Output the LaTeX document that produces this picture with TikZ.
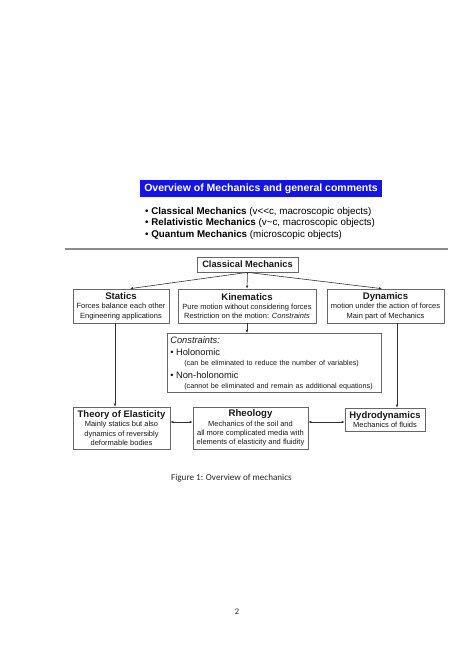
\documentclass[tikz,border=0pt]{standalone}
\usepackage{fontspec}
\setmainfont[Ligatures=NoCommon]{Liberation Sans}
\newfontfamily\capfont{Carlito}
\usetikzlibrary{calc,arrows.meta}
\newcommand{\fsz}[2]{\fontsize{#1}{#2}\selectfont}
\definecolor{hdrblue}{RGB}{20,20,230}
\begin{document}
\begin{tikzpicture}[x=1pt,y=-1pt,
  box/.style={draw=black!60, line width=0.7pt, align=center, inner sep=1pt, text=black!90, font=\fsz{7.5}{9.3}},
  conn/.style={draw=black!80, line width=0.6pt, -{Latex[length=3pt,width=2.6pt]}},
  dconn/.style={draw=black!80, line width=0.6pt, {Latex[length=3pt,width=2.6pt]}-{Latex[length=3pt,width=2.6pt]}}
]
\useasboundingbox[fill=white] (0,0) rectangle (474,670);

% header
\node[fill=hdrblue, minimum width=242pt, minimum height=17pt, inner sep=0pt, text=white, font=\bfseries\fsz{10.5}{12}] (hdr) at (261,188.5) {Overview of Mechanics and general comments};
\node[anchor=north west, align=left, inner sep=0pt, text=black, font=\fsz{9.8}{11.6}] (bul) at (145,207)
 {• \textbf{Classical Mechanics} (v{<}{<}c, macroscopic objects)\\
  • \textbf{Relativistic Mechanics} (v\textasciitilde c, macroscopic objects)\\
  • \textbf{Quantum Mechanics} (microscopic objects)};

% separator
\coordinate (ls) at (65,249);
\coordinate (le) at (448,249);
\draw[black!45, line width=1.5pt] (ls) -- (le);

% nodes
\node[box, minimum width=101pt, minimum height=15pt, font=\bfseries\fsz{9.3}{11}] (cm) at (247.5,264.5) {Classical Mechanics};
\node[box, minimum width=96pt, minimum height=34pt] (st) at (121,306)
 {{\bfseries\fsz{9.6}{11}Statics}\\Forces balance each other\\Engineering applications};
\node[box, minimum width=138pt, minimum height=34pt] (km) at (247,306)
 {{\bfseries\fsz{9.6}{11}Kinematics}\\Pure motion without considering forces\\Restriction on the motion: \textit{Constraints}};
\node[box, minimum width=117pt, minimum height=34pt] (dy) at (385.5,306)
 {{\bfseries\fsz{9.6}{11}Dynamics}\\motion under the action of forces\\Main part of Mechanics};
\node[box, anchor=north west, minimum height=59pt, text width=208pt, align=left, inner sep=3pt] (cs) at (167,333)
 {{\itshape\fsz{9.3}{11}Constraints:\par}
  {\fsz{9.3}{12.5}• Holonomic\par}
  {\fsz{7.2}{10}\hspace*{14pt}(can be eliminated to reduce the number of variables)\par}
  {\fsz{9.3}{12.5}• Non-holonomic\par}
  {\fsz{7.2}{10}\hspace*{14pt}(cannot be eliminated and remain as additional equations)\par}};
\node[box, minimum width=97pt, minimum height=42pt] (th) at (121.5,428)
 {{\bfseries\fsz{9.5}{11}Theory of Elasticity}\\Mainly statics but also\\dynamics of reversibly\\deformable bodies};
\node[box, minimum width=115pt, minimum height=42pt] (rh) at (250.5,428)
 {{\bfseries\fsz{9.6}{11}Rheology}\\Mechanics of the soil and\\all more complicated media with\\elements of elasticity and fluidity};
\node[box, minimum width=80pt, minimum height=23pt] (hy) at (385,419.5)
 {{\bfseries\fsz{9.5}{11}Hydrodynamics}\\Mechanics of fluids};

% connectors
\coordinate (xs) at (115,0);
\coordinate (xd) at (397,0);
\coordinate (ya) at (0,422);
\draw[conn] (cm.south) -- ($(st.north)+(9,0)$);
\draw[conn] (cm.south) -- (km.north);
\draw[conn] (cm.south) -- ($(dy.north)+(-3.5,0)$);
\draw[conn] (st.south -| xs) -- (th.north -| xs);
\draw[conn] (km.south) -- (km.south |- cs.north);
\draw[conn] (dy.south -| xd) -- (hy.north -| xd);
\draw[dconn] (th.east |- ya) -- (rh.west |- ya);
\draw[dconn] (rh.east |- ya) -- (hy.west |- ya);

% caption and page number
\node[anchor=west, inner sep=0pt, font=\capfont\fsz{9.1}{11}, text=black!85] (cap) at (171,478) {Figure 1: Overview of mechanics};
\node[inner sep=0pt, font=\capfont\fsz{8.5}{10}, text=black!85] (pg) at (237,612) {2};
\end{tikzpicture}
\end{document}
